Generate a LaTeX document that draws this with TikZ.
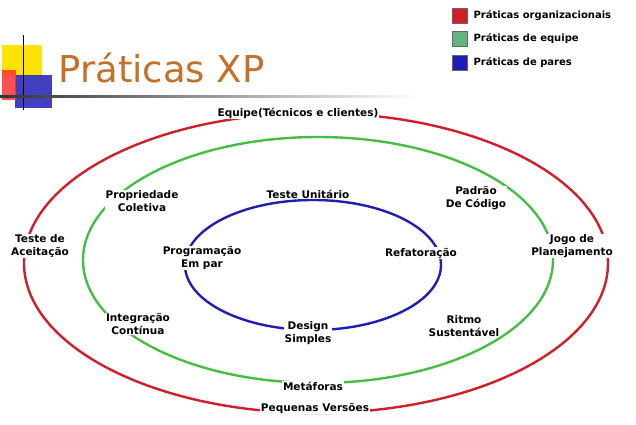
\documentclass[tikz,border=0pt]{standalone}
\usepackage{fontspec}
\setmainfont{DejaVu Sans}
\definecolor{tcol}{RGB}{196,112,40}
\definecolor{gcol}{RGB}{70,190,70}
\definecolor{rcol}{RGB}{210,30,40}
\definecolor{bcol}{RGB}{30,30,180}
\definecolor{lg}{RGB}{100,180,130}
\begin{document}
\begin{tikzpicture}[x=1pt,y=-1pt,
  lbl/.style={font=\bfseries\fontsize{10.5}{12.5}\selectfont, align=center, fill=white, inner sep=1pt},
  leg/.style={font=\bfseries\fontsize{10}{11}\selectfont, anchor=west},
  sq/.style={draw=black!60, minimum size=15pt, inner sep=0pt}]
\useasboundingbox (0,0) rectangle (636,424);
\fill[white] (0,0) rectangle (636,424);
% logo
\fill[yellow!85!orange] (2,45) rectangle (42,76);
\fill[bcol, opacity=0.85] (15,75) rectangle (52,108);
\fill[red!80, opacity=0.85] (2,70) rectangle (16,100);
\draw[black, line width=1pt] (23,35) -- (23,110);
\shade[left color=black!80, right color=white] (0,95) rectangle (420,97.5);
\node[anchor=west, text=tcol, font=\fontsize{37}{40}\selectfont] (title) at (55,68) {Práticas XP};
% legend
\node[sq, fill=rcol] (s1) at (460,16) {};
\node[sq, fill=lg] (s2) at (460,39) {};
\node[sq, fill=bcol] (s3) at (460,63) {};
\node[leg] (l1) at (470,16) {Práticas organizacionais};
\node[leg] (l2) at (470,39) {Práticas de equipe};
\node[leg] (l3) at (470,63) {Práticas de pares};
% ellipses
\draw[rcol, line width=2.4pt] (316,263) ellipse [x radius=292, y radius=150];
\draw[gcol, line width=2.4pt] (318,260) ellipse [x radius=235, y radius=123];
\draw[bcol, line width=2.4pt] (313,265) ellipse [x radius=128, y radius=65];
% labels
\node[lbl] (a) at (298,113) {Equipe(Técnicos e clientes)};
\node[lbl] (b) at (315,408) {Pequenas Versões};
\node[lbl] (c) at (40,246) {Teste de\\Aceitação};
\node[lbl] (d) at (572,246) {Jogo de\\Planejamento};
\node[lbl] (e) at (142,201) {Propriedade\\Coletiva};
\node[lbl] (f) at (476,198) {Padrão\\De Código};
\node[lbl] (g) at (138,324) {Integração\\Contínua};
\node[lbl] (h) at (464,326) {Ritmo\\Sustentável};
\node[lbl] (i) at (313,386) {Metáforas};
\node[lbl] (j) at (308,194) {Teste Unitário};
\node[lbl] (k) at (202,258) {Programação\\Em par};
\node[lbl] (l) at (421,253) {Refatoração};
\node[lbl] (m) at (308,333) {Design\\Simples};
\end{tikzpicture}
\end{document}
